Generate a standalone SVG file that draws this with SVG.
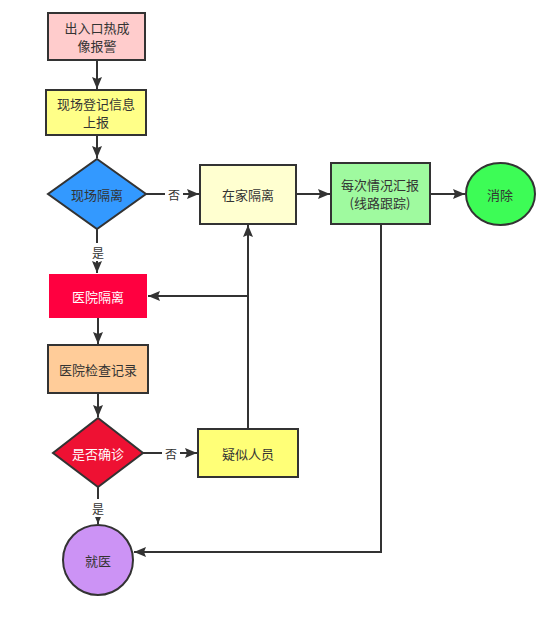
<svg xmlns="http://www.w3.org/2000/svg" width="553" height="632" viewBox="0 0 553 632">
<style>
.n{stroke:#333;stroke-width:2}
.t{font-family:"Noto Sans CJK SC","Liberation Sans",sans-serif;font-size:13px;fill:#333;text-anchor:middle;dominant-baseline:central}
.w{fill:#fff}
.e{fill:none;stroke:#333;stroke-width:2}
.l{font-family:"Noto Sans CJK SC","Liberation Sans",sans-serif;font-size:12px;fill:#333;text-anchor:middle;dominant-baseline:central}
</style>
<defs>
<marker id="a" markerUnits="userSpaceOnUse" markerWidth="14" markerHeight="12" refX="12" refY="5" orient="auto">
<path d="M0,0 L12,5 L0,10 L2,5 z" fill="#333"/>
</marker>
</defs>
<rect width="553" height="632" fill="#fff"/>
<g id="connectors">
<path class="e" d="M97,60 V89" marker-end="url(#a)"/>
<path class="e" d="M97,135 V158" marker-end="url(#a)"/>
<path class="e" d="M146,194 H199" marker-end="url(#a)"/>
<path class="e" d="M296,194 H330" marker-end="url(#a)"/>
<path class="e" d="M430,194 H465" marker-end="url(#a)"/>
<path class="e" d="M97,229 V273" marker-end="url(#a)"/>
<path class="e" d="M248,429 V225" marker-end="url(#a)"/>
<path class="e" d="M248,296 H148" marker-end="url(#a)"/>
<path class="e" d="M98,318 V344" marker-end="url(#a)"/>
<path class="e" d="M98,393 V417" marker-end="url(#a)"/>
<path class="e" d="M143,453 H197" marker-end="url(#a)"/>
<path class="e" d="M98,487 V524" marker-end="url(#a)"/>
<path class="e" d="M381,224 V552 H134" marker-end="url(#a)"/>
<rect x="165" y="185" width="18" height="18" fill="#fff"/>
<text class="l" x="174" y="194">否</text>
<rect x="89" y="243" width="18" height="18" fill="#fff"/>
<text class="l" x="98" y="252">是</text>
<rect x="162" y="444" width="18" height="18" fill="#fff"/>
<text class="l" x="171" y="453">否</text>
<rect x="89" y="499" width="18" height="18" fill="#fff"/>
<text class="l" x="98" y="508">是</text>
</g>
<g id="n1"><rect class="n" x="48" y="13" width="97" height="47" fill="#ffcccc"/><text class="t" x="97" y="27.5">出入口热成</text><text class="t" x="97" y="45.5">像报警</text></g>
<g id="n2"><rect class="n" x="46" y="90" width="100" height="45" fill="#ffff88"/><text class="t" x="96" y="103.5">现场登记信息</text><text class="t" x="96" y="121.5">上报</text></g>
<g id="n3"><path class="n" d="M97,159 L146,194 L97,229 L48,194 z" fill="#3399ff"/><text class="t" x="97" y="194">现场隔离</text></g>
<g id="n4"><rect class="n" x="200" y="165" width="96" height="59" fill="#ffffd0"/><text class="t" x="248" y="194">在家隔离</text></g>
<g id="n5"><rect class="n" x="331" y="163" width="99" height="61" fill="#9ffa9f"/><text class="t" x="380" y="184.5">每次情况汇报</text><text class="t" x="380" y="202.5">(线路跟踪)</text></g>
<g id="n6"><ellipse class="n" cx="500.5" cy="194" rx="34.5" ry="31" fill="#3dfc56"/><text class="t" x="500" y="194">消除</text></g>
<g id="n7"><rect x="49" y="274" width="98" height="44" fill="#ff0040"/><text class="t w" x="98" y="296">医院隔离</text></g>
<g id="n8"><rect class="n" x="48" y="345" width="100" height="48" fill="#ffcc99"/><text class="t" x="98" y="369">医院检查记录</text></g>
<g id="n9"><path class="n" d="M98,418 L143,453 L98,487 L53,453 z" fill="#ee1133"/><text class="t w" x="98" y="453">是否确诊</text></g>
<g id="n10"><rect class="n" x="198" y="429" width="100" height="48" fill="#ffff77"/><text class="t" x="248" y="453">疑似人员</text></g>
<g id="n11"><circle class="n" cx="98" cy="560" r="35" fill="#cc93f5"/><text class="t" x="98" y="560">就医</text></g>
</svg>
